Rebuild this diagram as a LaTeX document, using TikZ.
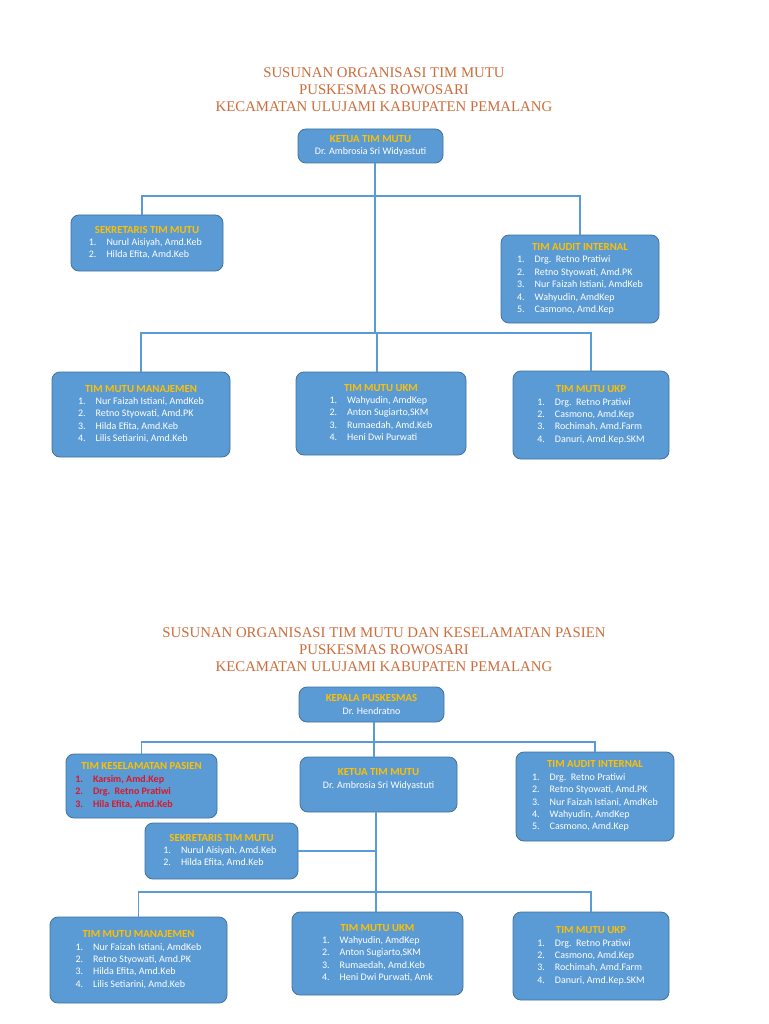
\documentclass[tikz,border=0pt]{standalone}
\usepackage{fontspec}
\setmainfont{Liberation Serif}
\newfontfamily\calibri{Carlito}
\definecolor{boxblue}{HTML}{5B9BD5}
\definecolor{boxedge}{HTML}{41719C}
\definecolor{headgold}{HTML}{FFC000}
\definecolor{titleorange}{HTML}{CC6C3A}
\definecolor{namered}{HTML}{D9182D}
\newcommand{\boxhead}[1]{\textcolor{headgold}{\fontsize{10.8}{12.4}\selectfont\bfseries #1}}
\newcommand{\staff}[2]{%
  \begin{tabular}{@{}l@{\hspace{10pt}}l@{}}
    \multicolumn{2}{c}{\boxhead{#1}}\\
    #2
  \end{tabular}}
\newcommand{\redrow}[2]{\textcolor{namered}{\bfseries #1} & \textcolor{namered}{\bfseries #2}}

\begin{document}
\begin{tikzpicture}[x=1pt,y=-1pt,
	unit/.style={draw=boxedge, line width=0.8pt, fill=boxblue, rounded corners=8pt,
		text=white, align=center, inner sep=2pt,
		font=\calibri\fontsize{10}{12.4}\selectfont},
	link/.style={draw=boxblue, line width=1.2pt},
	heading/.style={text=titleorange, align=center, font=\fontsize{14.8}{17}\selectfont}]
	\useasboundingbox (0,0) rectangle (768,1024);
	%First chart: title
	\node[heading] (title1) at (384,90) {SUSUNAN ORGANISASI TIM MUTU\\PUSKESMAS ROWOSARI\\KECAMATAN ULUJAMI KABUPATEN PEMALANG};
	%First chart: boxes
	\node[unit, minimum width=145pt, minimum height=34pt] (ketua) at (370.5,146)
	{\boxhead{KETUA TIM MUTU}\\Dr. Ambrosia Sri Widyastuti};
	\node[unit, minimum width=152pt, minimum height=56pt] (sek) at (147,243)
	{\staff{SEKRETARIS TIM MUTU}{1. & Nurul Aisiyah, Amd.Keb\\ 2. & Hilda Efita, Amd.Keb}};
	\node[unit, minimum width=158pt, minimum height=88pt] (audit) at (580,279)
	{\staff{TIM AUDIT INTERNAL}{1. & Drg.\ \ Retno Pratiwi\\ 2. & Retno Styowati, Amd.PK\\ 3. & Nur Faizah Istiani, AmdKeb\\ 4. & Wahyudin, AmdKep\\ 5. & Casmono, Amd.Kep}};
	\node[unit, minimum width=178pt, minimum height=85pt] (manaj) at (141,414.5)
	{\staff{TIM MUTU MANAJEMEN}{1. & Nur Faizah Istiani, AmdKeb\\ 2. & Retno Styowati, Amd.PK\\ 3. & Hilda Efita, Amd.Keb\\ 4. & Lilis Setiarini, Amd.Keb}};
	\node[unit, minimum width=170pt, minimum height=83pt] (ukm) at (381,413.5)
	{\staff{TIM MUTU UKM}{1. & Wahyudin, AmdKep\\ 2. & Anton Sugiarto,SKM\\ 3. & Rumaedah, Amd.Keb\\ 4. & Heni Dwi Purwati}};
	\node[unit, minimum width=156pt, minimum height=88pt] (ukp) at (591,415)
	{\staff{TIM MUTU UKP}{1. & Drg.\ \ Retno Pratiwi\\ 2. & Casmono, Amd.Kep\\ 3. & Rochimah, Amd.Farm\\ 4. & Danuri, Amd.Kep.SKM}};
	%First chart: connectors
	\coordinate (busA) at (375,196);
	\coordinate (busB) at (375,333);
	\draw[link] (ketua.south -| busA) -- (busB);
	\draw[link] ([xshift=-5pt]sek.north) |- (busA) -| (audit.north);
	\draw[link] (manaj.north) |- (busB) -| (ukp.north);
	\draw[link] (busB) -| ([xshift=-4pt]ukm.north);
	%Second chart: title
	\node[heading] (title2) at (384,650) {SUSUNAN ORGANISASI TIM MUTU DAN KESELAMATAN PASIEN\\PUSKESMAS ROWOSARI\\KECAMATAN ULUJAMI KABUPATEN PEMALANG};
	%Second chart: boxes
	\node[unit, minimum width=145pt, minimum height=35pt] (kepala) at (371.5,704.5)
	{\boxhead{KEPALA PUSKESMAS}\\Dr. Hendratno};
	\node[unit, minimum width=151pt, minimum height=64pt] (kes) at (141.5,786)
	{\staff{TIM KESELAMATAN PASIEN}{\redrow{1.}{Karsim, Amd.Kep}\\ \redrow{2.}{Drg.\ \ Retno Pratiwi}\\ \redrow{3.}{Hila Efita, Amd.Keb}}};
	\node[unit, minimum width=157pt, minimum height=55pt] (ketuaB) at (378.5,784.5)
	{\boxhead{KETUA TIM MUTU}\\Dr. Ambrosia Sri Widyastuti\\ \mbox{}};
	\node[unit, minimum width=158pt, minimum height=89pt] (auditB) at (595,796.5)
	{\staff{TIM AUDIT INTERNAL}{1. & Drg.\ \ Retno Pratiwi\\ 2. & Retno Styowati, Amd.PK\\ 3. & Nur Faizah Istiani, AmdKeb\\ 4. & Wahyudin, AmdKep\\ 5. & Casmono, Amd.Kep}};
	\node[unit, minimum width=153pt, minimum height=56pt] (sekB) at (221.5,851)
	{\staff{SEKRETARIS TIM MUTU}{1. & Nurul Aisiyah, Amd.Keb\\ 2. & Hilda Efita, Amd.Keb}};
	\node[unit, minimum width=177pt, minimum height=86pt] (manajB) at (138.5,960)
	{\staff{TIM MUTU MANAJEMEN}{1. & Nur Faizah Istiani, AmdKeb\\ 2. & Retno Styowati, Amd.PK\\ 3. & Hilda Efita, Amd.Keb\\ 4. & Lilis Setiarini, Amd.Keb}};
	\node[unit, minimum width=171pt, minimum height=83pt] (ukmB) at (377.5,953.5)
	{\staff{TIM MUTU UKM}{1. & Wahyudin, AmdKep\\ 2. & Anton Sugiarto,SKM\\ 3. & Rumaedah, Amd.Keb\\ 4. & Heni Dwi Purwati, Amk}};
	\node[unit, minimum width=156pt, minimum height=88pt] (ukpB) at (591,956)
	{\staff{TIM MUTU UKP}{1. & Drg.\ \ Retno Pratiwi\\ 2. & Casmono, Amd.Kep\\ 3. & Rochimah, Amd.Farm\\ 4. & Danuri, Amd.Kep.SKM}};
	%Second chart: connectors
	\coordinate (busC) at (374,742);
	\coordinate (busD) at (376,892);
	\draw[link] (kepala.south -| busC) -- (ketuaB.north -| busC);
	\draw[link] (kes.north) |- (busC) -| (auditB.north);
	\draw[link] (ketuaB.south -| busD) -- (busD);
	\draw[link] (sekB.east) -- (sekB.east -| busD);
	\draw[link] (manajB.north) |- (busD) -| (ukpB.north);
	\draw[link] (busD) -- (busD |- ukmB.north);
\end{tikzpicture}
\end{document}
